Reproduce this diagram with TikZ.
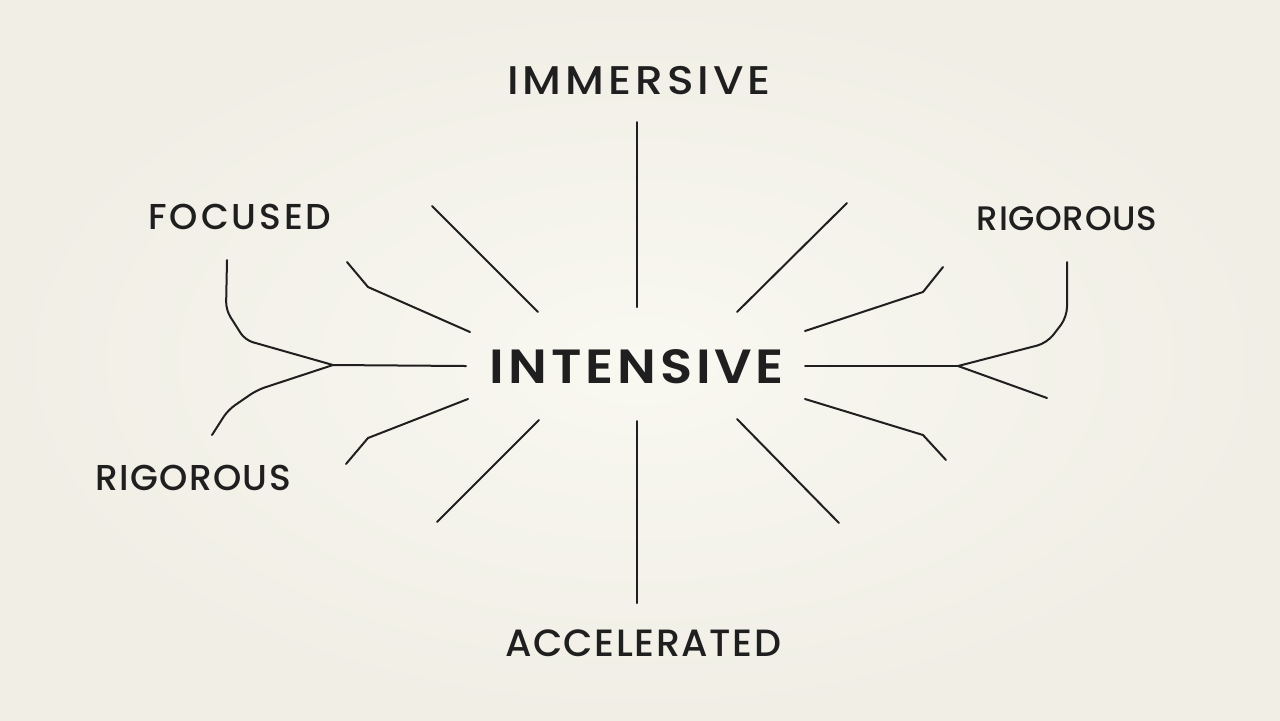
\documentclass[tikz,border=0pt]{standalone}
\usepackage{fontspec}
\setmainfont{Poppins}[UprightFont=* Medium]
\newfontfamily\hubfont{Poppins SemiBold}[FakeStretch=1.1]
\newfontfamily\widefont{Poppins Medium}[FakeStretch=1.1]
\begin{document}
\begin{tikzpicture}[x=0.5pt,y=-0.5pt,
  ray/.style={draw=black!88, line width=1pt, line cap=round, line join=round},
  lbl/.style={text=black!88, inner sep=0pt}]
\useasboundingbox (0,0) rectangle (1280,720);
\shade[inner color={rgb,255:red,249;green,248;blue,241}, outer color={rgb,255:red,240;green,238;blue,229}] (0,0) rectangle (1280,720);

% labels
\node[lbl, font=\hubfont\fontsize{24}{28}\selectfont\addfontfeature{LetterSpace=8}] (intensive) at (637,367) {INTENSIVE};
\node[lbl, font=\widefont\fontsize{20}{24}\selectfont\addfontfeature{LetterSpace=10}] (immersive) at (639,81) {IMMERSIVE};
\node[lbl, font=\fontsize{18}{22}\selectfont\addfontfeature{LetterSpace=8}] (focused) at (240,217) {FOCUSED};
\node[lbl, font=\fontsize{17}{21}\selectfont\addfontfeature{LetterSpace=2}] (rigR) at (1067,219) {RIGOROUS};
\node[lbl, font=\fontsize{18}{22}\selectfont\addfontfeature{LetterSpace=4}] (rigL) at (193,478) {RIGOROUS};
\node[lbl, font=\fontsize{19}{23}\selectfont\addfontfeature{LetterSpace=4}] (accel) at (643,643) {ACCELERATED};

% coordinates
\coordinate (t1) at (637,122); \coordinate (t2) at (637,307);
\coordinate (b1) at (637,421); \coordinate (b2) at (637,603);
\coordinate (ul1) at (432,206); \coordinate (ul2) at (538,312);
\coordinate (ur1) at (847,203); \coordinate (ur2) at (737,312);
\coordinate (ll1) at (539,420); \coordinate (ll2) at (437,522);
\coordinate (lr1) at (737,419); \coordinate (lr2) at (839,523);
\coordinate (jl) at (333,365); \coordinate (jr) at (958,366);
\coordinate (hl) at (466,366); \coordinate (hr) at (805,366);
\coordinate (dl1) at (347,262); \coordinate (dl2) at (470,332);
\coordinate (dl3) at (346,464); \coordinate (dl4) at (468,399);
\coordinate (dr1) at (943,267); \coordinate (dr2) at (805,331);
\coordinate (dr3) at (946,460); \coordinate (dr4) at (805,399);
\coordinate (fl) at (227,260); \coordinate (rl) at (212,435);
\coordinate (fr) at (1067,262); \coordinate (rd) at (1047,398);

% radiating lines
\draw[ray] (t1) -- (t2);
\draw[ray] (b1) -- (b2);
\draw[ray] (ul1) -- (ul2);
\draw[ray] (ur1) -- (ur2);
\draw[ray] (ll1) -- (ll2);
\draw[ray] (lr1) -- (lr2);
\draw[ray] (dl1) -- (368,287) -- (dl2);
\draw[ray] (dl4) -- (368,438) -- (dl3);
\draw[ray] (dr1) -- (923,292) -- (dr2);
\draw[ray] (dr4) -- (923,435) -- (dr3);

% left fork
\draw[ray] (hl) -- (jl);
\draw[ray, rounded corners=4pt] (jl) -- (245,340) -- (226,310) -- (fl);
\draw[ray, rounded corners=4pt] (jl) -- (257,390) -- (228,410) -- (rl);

% right fork
\draw[ray] (hr) -- (jr);
\draw[ray, rounded corners=5pt] (jr) -- (1047,343) -- (1067,317) -- (fr);
\draw[ray] (jr) -- (rd);
\end{tikzpicture}
\end{document}
